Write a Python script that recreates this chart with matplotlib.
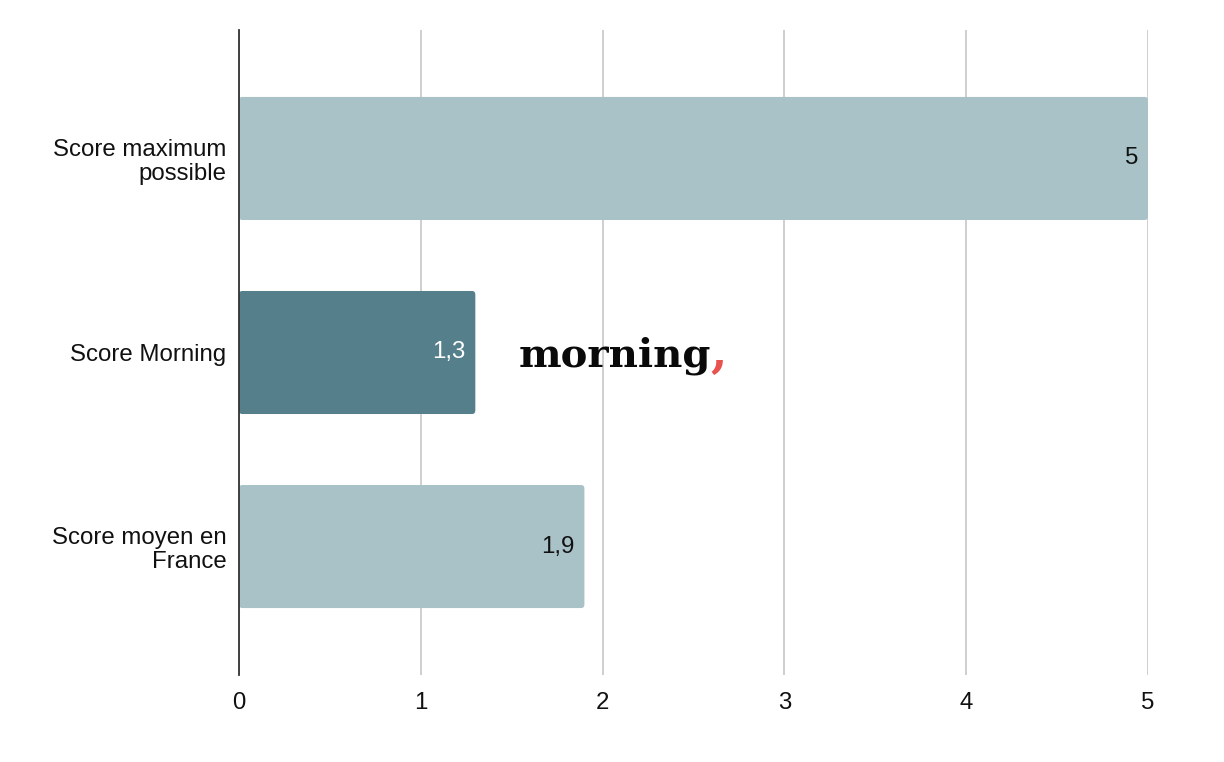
import matplotlib
matplotlib.use("Agg")
import matplotlib.pyplot as plt
from matplotlib.patches import FancyBboxPatch

# donnees
categories = ["Score maximum\npossible", "Score Morning", "Score moyen en\nFrance"]
scores = [5, 1.3, 1.9]
etiquettes = ["5", "1,3", "1,9"]

COR_CLAIR = "#A8C2C7"
COR_FONCE = "#557F8B"
couleurs = [COR_CLAIR, COR_FONCE, COR_CLAIR]
couleurs_txt = ["#111111", "#FFFFFF", "#111111"]

plt.rcParams["font.family"] = ["Liberation Sans", "DejaVu Sans"]
FS = 17.3

fig = plt.figure(figsize=(12.24, 7.62), dpi=100)
ax = fig.add_axes([239 / 1224, 1 - 675 / 762, (1148 - 239) / 1224, (675 - 30) / 762])

y = list(range(len(categories)))
bars = ax.barh(y, scores, height=0.634, color=couleurs, zorder=3)

# coins legerement arrondis, comme dans l'original
for b, c in zip(bars, couleurs):
    b.set_visible(False)
    ax.add_patch(FancyBboxPatch((b.get_x(), b.get_y()), b.get_width(), b.get_height(),
                                boxstyle="round,pad=0,rounding_size=0.018",
                                mutation_aspect=1.07, facecolor=c, edgecolor="none",
                                zorder=3))

ax.set_xlim(0, 5)
ax.set_ylim(2.662, -0.662)
ax.set_yticks(y)
ax.set_yticklabels(categories, fontsize=FS, color="#111111", linespacing=1.1)
ax.set_xticks(range(6))
ax.set_xticklabels([str(i) for i in range(6)], fontsize=FS, color="#111111")
ax.tick_params(axis="both", length=0)
ax.tick_params(axis="y", pad=9)
ax.tick_params(axis="x", pad=12)

ax.grid(axis="x", color="#CCCCCC", linewidth=1.3, zorder=0)
for s in ["top", "right", "bottom"]:
    ax.spines[s].set_visible(False)
ax.spines["left"].set_color("#333333")
ax.spines["left"].set_linewidth(1.3)
ax.spines["left"].set_zorder(4)

for b, txt, c in zip(bars, etiquettes, couleurs_txt):
    ax.annotate(txt, (b.get_width(), b.get_y() + b.get_height() / 2),
                xytext=(-7, 0), textcoords="offset points",
                ha="right", va="center", fontsize=FS, color=c, zorder=5)

# logo
logo = fig.text(519 / 1224, 1 - 367 / 762, "morning", fontsize=29, fontweight="bold",
                family="DejaVu Serif", color="#0A0A0A", ha="left", va="baseline")
fig.canvas.draw()
bb = logo.get_window_extent()
fig.text((bb.x1 - 1) / 1224, 1 - 367 / 762, ",", fontsize=34, fontweight="bold",
         family="DejaVu Serif", color="#E8524F", ha="left", va="baseline")

fig.savefig("out.png", dpi=100, facecolor="white")
